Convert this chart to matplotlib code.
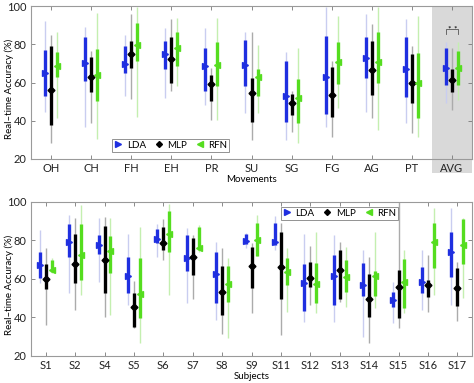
import matplotlib
matplotlib.use("Agg")
import matplotlib.pyplot as plt
from matplotlib.lines import Line2D
from matplotlib.patches import Rectangle
import matplotlib.transforms as mtransforms

plt.rcParams['font.family'] = ['Lato', 'DejaVu Sans']

# ---------------- data: top panel (movements) ----------------
movements = ["OH", "CH", "FH", "EH", "PR", "SU", "SG", "FG", "AG", "PT", "AVG"]
# each: whisker low, whisker high, q-low, q-high, mean
lda_mov_wlo = [44.7, 36.9, 53.1, 51.7, 48.2, 43.9, 29.9, 36.9, 44.7, 38.6, 49.1]
lda_mov_whi = [92.3, 89.2, 84.8, 88.3, 88.3, 86.2, 76.1, 99.6, 95.8, 93.0, 81.4]
lda_mov_qlo = [53.0, 61.0, 65.1, 66.9, 55.7, 58.3, 39.2, 43.4, 62.2, 52.6, 58.7]
lda_mov_qhi = [77.0, 83.6, 79.1, 81.9, 78.2, 82.2, 71.2, 84.3, 83.6, 84.0, 78.2]
lda_mov_mean = [65.1, 70.4, 69.5, 74.9, 68.8, 69.2, 53.1, 62.7, 73.0, 67.1, 67.4]

mlp_mov_wlo = [28.5, 39.0, 51.2, 55.7, 40.4, 29.9, 34.3, 31.3, 41.3, 33.4, 45.6]
mlp_mov_whi = [84.8, 76.6, 95.8, 93.0, 67.4, 86.6, 55.7, 71.4, 90.6, 79.1, 77.9]
mlp_mov_qlo = [37.8, 55.0, 67.4, 59.6, 50.5, 39.5, 43.0, 42.1, 53.5, 49.1, 55.2]
mlp_mov_qhi = [79.3, 73.2, 81.9, 83.6, 63.9, 62.2, 54.0, 68.3, 81.7, 74.9, 67.1]
mlp_mov_mean = [56.0, 62.7, 74.9, 72.1, 59.2, 54.7, 49.1, 53.3, 66.5, 59.9, 61.3]

rfn_mov_wlo = [41.3, 30.3, 42.1, 58.0, 40.4, 43.9, 28.2, 46.5, 35.2, 31.7, 50.8]
rfn_mov_whi = [86.2, 96.2, 99.3, 94.0, 93.6, 79.6, 77.9, 94.8, 99.3, 94.8, 81.4]
rfn_mov_qlo = [62.7, 50.5, 71.4, 68.6, 58.2, 52.9, 39.0, 59.2, 59.9, 41.3, 58.7]
rfn_mov_qhi = [76.1, 77.3, 91.3, 86.2, 81.4, 67.1, 61.7, 81.0, 86.2, 75.3, 76.6]
rfn_mov_mean = [68.6, 63.9, 79.6, 77.9, 69.2, 63.0, 51.7, 70.7, 70.9, 59.6, 67.4]

# ---------------- data: bottom panel (subjects) ----------------
subjects = ["S1", "S2", "S4", "S5", "S6", "S7", "S8", "S9", "S11", "S12",
            "S13", "S14", "S15", "S16", "S17"]
lda_sub_wlo = [57.6, 52.4, 58.5, 46.3, 71.4, 47.2, 38.5, 76.1, 74.9, 37.7, 37.7, 29.9, 36.8, 43.7, 46.3]
lda_sub_whi = [85.5, 93.1, 91.7, 83.0, 88.2, 86.2, 79.2, 83.5, 92.7, 83.0, 82.7, 74.9, 58.1, 74.9, 96.9]
lda_sub_qlo = [60.5, 71.4, 72.6, 52.4, 78.4, 64.0, 47.2, 77.8, 77.5, 43.2, 46.3, 51.2, 45.5, 52.4, 61.0]
lda_sub_qhi = [73.7, 88.4, 82.7, 71.1, 85.8, 82.7, 73.7, 83.0, 88.8, 67.6, 72.3, 68.0, 53.3, 66.3, 84.1]
lda_sub_mean = [67.1, 78.9, 77.5, 61.4, 80.6, 70.6, 62.3, 79.6, 79.2, 57.6, 61.6, 56.8, 48.8, 58.1, 73.7]

mlp_sub_wlo = [35.9, 43.7, 40.3, 34.2, 69.7, 49.5, 31.1, 42.0, 30.8, 46.3, 48.0, 26.4, 34.2, 42.9, 38.0]
mlp_sub_whi = [75.7, 91.4, 92.2, 58.9, 91.0, 82.7, 76.1, 78.4, 88.8, 77.1, 79.2, 71.4, 100.0, 72.3, 68.8]
mlp_sub_qlo = [54.6, 57.9, 52.4, 35.1, 74.9, 62.0, 41.1, 55.0, 49.5, 55.8, 49.5, 40.3, 39.4, 50.7, 45.8]
mlp_sub_qhi = [67.4, 83.0, 87.4, 52.7, 87.0, 81.0, 66.8, 76.6, 84.4, 68.8, 74.9, 62.3, 64.5, 59.3, 65.4]
mlp_sub_mean = [59.8, 67.6, 69.7, 45.5, 78.4, 71.1, 53.3, 66.6, 65.9, 60.5, 64.5, 49.3, 55.5, 56.8, 55.0]

rfn_sub_wlo = [62.8, 51.5, 41.1, 26.4, 51.5, 74.0, 29.4, 72.0, 42.9, 42.0, 45.5, 44.6, 42.0, 51.5, 49.8]
rfn_sub_whi = [70.6, 98.3, 91.4, 87.0, 98.6, 87.9, 70.6, 93.1, 75.8, 84.4, 76.6, 84.1, 74.9, 96.6, 91.4]
rfn_sub_qlo = [63.6, 59.3, 62.8, 39.6, 74.0, 74.9, 48.0, 71.8, 56.7, 47.2, 53.3, 51.2, 44.6, 65.7, 67.4]
rfn_sub_qhi = [69.7, 88.2, 82.2, 70.6, 95.2, 87.0, 66.8, 88.8, 70.9, 68.0, 69.7, 64.0, 70.2, 88.8, 91.0]
rfn_sub_mean = [64.5, 72.3, 74.4, 52.2, 83.0, 75.8, 57.1, 80.0, 63.3, 57.1, 61.1, 61.6, 58.1, 79.2, 77.5]

methods = ["LDA", "MLP", "RFN"]
sig_stars = ["*", "*"]
sig_level = 88.0

# ---------------- styling ----------------
dark = {"LDA": "#1f2fe0", "MLP": "#000000", "RFN": "#55dd1f"}
light = {"LDA": "#c9cdf0", "MLP": "#ababab", "RFN": "#c4efb0"}
marker = {"LDA": ">", "MLP": "D", "RFN": "<"}
msize = {"LDA": 4.5, "MLP": 3.5, "RFN": 4.5}

fig = plt.figure(figsize=(4.74, 3.83), dpi=100)
ax1 = fig.add_axes([0.0654, 0.585, 0.9304, 0.399])
ax2 = fig.add_axes([0.0654, 0.0713, 0.9304, 0.402])

def draw(ax, n, offs, series):
    for j, m in enumerate(methods):
        wlo, whi, qlo, qhi, mean = series[m]
        xs = [i + 1 + offs[j] for i in range(n)]
        ax.vlines(xs, wlo, whi, color=light[m], lw=1.0, zorder=2)
        ax.vlines(xs, qlo, qhi, color=dark[m], lw=2.4, zorder=3)
        ax.plot(xs, mean, linestyle="none", marker=marker[m], color=dark[m],
                ms=msize[m], mec=dark[m], zorder=4)

def style(ax, labels, xlabel):
    ax.set_xlim(0.5, len(labels) + 0.5)
    ax.set_ylim(20, 100)
    ax.set_yticks([20, 40, 60, 80, 100])
    ax.set_xticks(range(1, len(labels) + 1))
    ax.set_xticklabels(labels)
    ax.tick_params(direction="in", length=3, width=0.6, color="#777777",
                   labelsize=8, top=True, right=True, pad=3, labelcolor="#222222")
    for s in ax.spines.values():
        s.set_color("#9a9a9a")
        s.set_linewidth(0.8)
    ax.set_ylabel("Real–time Accuracy (%)", fontsize=7)
    ax.yaxis.label.set_va("center")
    ax.yaxis.set_label_coords(-0.05, 0.46)
    ax.set_xlabel(xlabel, fontsize=7)
    ax.xaxis.label.set_va("center")
    ax.xaxis.set_label_coords(0.5, -0.137)

# top panel
offs_top = [-0.15, 0.0, 0.15]
trans = mtransforms.blended_transform_factory(ax1.transData, ax1.transAxes)
ax1.add_patch(Rectangle((len(movements) - 0.5, -0.092), 1.0, 1.092, transform=trans,
                        facecolor="#d9d9d9", edgecolor="none", clip_on=False, zorder=0))
draw(ax1, len(movements), offs_top, {
    "LDA": (lda_mov_wlo, lda_mov_whi, lda_mov_qlo, lda_mov_qhi, lda_mov_mean),
    "MLP": (mlp_mov_wlo, mlp_mov_whi, mlp_mov_qlo, mlp_mov_qhi, mlp_mov_mean),
    "RFN": (rfn_mov_wlo, rfn_mov_whi, rfn_mov_qlo, rfn_mov_qhi, rfn_mov_mean),
})
style(ax1, movements, "Movements")
# significance bracket on AVG
xa = len(movements)
xl, xm, xr = xa + offs_top[0], xa + offs_top[1], xa + offs_top[2]
ax1.plot([xl, xl, xr, xr], [sig_level - 2.5, sig_level, sig_level, sig_level - 2.5],
         color="#555555", lw=0.6, zorder=5)
ax1.text((xl + xm) / 2, sig_level - 1.8, sig_stars[0], fontsize=6, ha="center", va="bottom")
ax1.text((xm + xr) / 2, sig_level - 1.8, sig_stars[1], fontsize=6, ha="center", va="bottom")

# bottom panel
offs_bot = [-0.2, 0.0, 0.2]
draw(ax2, len(subjects), offs_bot, {
    "LDA": (lda_sub_wlo, lda_sub_whi, lda_sub_qlo, lda_sub_qhi, lda_sub_mean),
    "MLP": (mlp_sub_wlo, mlp_sub_whi, mlp_sub_qlo, mlp_sub_qhi, mlp_sub_mean),
    "RFN": (rfn_sub_wlo, rfn_sub_whi, rfn_sub_qlo, rfn_sub_qhi, rfn_sub_mean),
})
style(ax2, subjects, "Subjects")

handles = [Line2D([], [], linestyle="none", marker=marker[m], color=dark[m],
                  ms=msize[m] - 0.5) for m in methods]

for ax, loc, anchor in [(ax1, "lower left", (0.184, 0.048)),
                        (ax2, "upper left", (0.566, 0.968))]:
    leg = ax.legend(handles, methods, loc=loc, bbox_to_anchor=anchor, ncol=3,
                    fontsize=7, frameon=True, fancybox=False, handlelength=0.9,
                    handletextpad=0.4, columnspacing=0.9, borderpad=0.2,
                    borderaxespad=0)
    leg.get_frame().set_edgecolor("#777777")
    leg.get_frame().set_linewidth(0.7)
    leg.set_zorder(6)

fig.savefig("out.png", dpi=100)
